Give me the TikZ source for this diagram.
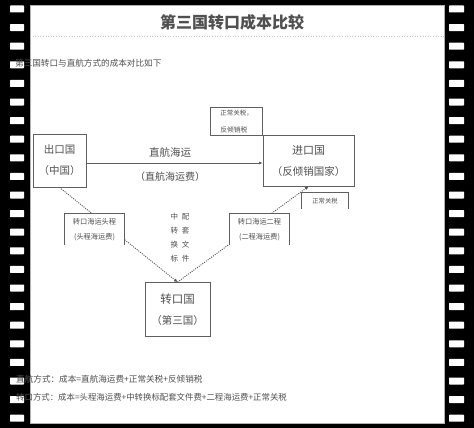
\documentclass[tikz,border=0pt]{standalone}
\usepackage{fontspec}
\setmainfont{Noto Sans CJK SC}
\usetikzlibrary{arrows.meta}
\definecolor{txt}{HTML}{505050}
\definecolor{ln}{HTML}{606060}
\tikzset{
  bigbox/.style={draw=ln, line width=0.8pt, fill=white, align=center, text=txt, inner sep=0pt},
  openbox/.style={fill=white, align=center, text=txt, inner sep=0pt},
  dotarrow/.style={draw=ln!90!black, dash pattern=on 1pt off 1.2pt, line width=0.9pt, -{Latex[length=3.5pt,width=3.5pt]}},
  hole/.style={fill=white, rounded corners=0.6pt},
}
\newcommand{\fs}[1]{\fontsize{#1}{#1}\selectfont}
\begin{document}
\begin{tikzpicture}[x=1pt,y=-1pt]
\useasboundingbox (0,0) rectangle (474,428);
% film strip
\fill[black] (0,0) rectangle (474,428);
\fill[white, draw=gray!60, line width=0.4pt] (30,5) rectangle (444,423);
\foreach \i in {0,...,22} {
  \fill[hole] (10,{5.5+18.6*\i}) rectangle (24,{12.5+18.6*\i});
  \fill[hole] (449,{5.5+18.6*\i}) rectangle (464,{12.5+18.6*\i});
}
% title
\node[font=\bfseries\fs{16}, text=txt] (title) at (232,22) {第三国转口成本比较};
\draw[gray!45, dotted, line width=0.6pt] (30,36) -- (444,36);
\node[anchor=west, font=\fs{8.6}, text=txt, inner sep=0pt] (sub) at (15,63) {第三国转口与直航方式的成本对比如下};

% main boxes
\node[bigbox, minimum width=53pt, minimum height=53pt] (out) at (59.5,160.5)
  {{\fs{10.5}出口国}\\[9pt]{\fs{10.5}（中国）}};
\node[bigbox, minimum width=91pt, minimum height=51pt] (in) at (308.5,160.5)
  {{\fs{11}进口国}\\[9pt]{\fs{10.5}（反倾销国家）}};
\node[bigbox, minimum width=52.5pt, minimum height=28pt, align=left] (tax) at (236.5,121.5)
  {{\fs{6.5}正常关税，}\\[5pt]{\fs{6.8}反倾销税}};
\node[bigbox, minimum width=65pt, minimum height=54pt] (trans) at (177.5,309.5)
  {{\fs{11.5}转口国}\\[9pt]{\fs{10.5}（第三国）}};

% direct route
\coordinate (lvl) at (0,163);
\draw[ln, line width=0.8pt, -{Latex[length=3.5pt,width=3pt]}] (out.east |- lvl) -- (in.west |- lvl);
\node[font=\fs{10.5}, text=txt] (dlab) at (170,152) {直航海运};
\node[font=\fs{10}, text=txt] (dcost) at (170,177) {（直航海运费）};

% transit routes
\draw[dotarrow] (out.south) -- (trans.north);
\draw[dotarrow] (trans.north) -- (in.south);

% open boxes
\node[openbox, minimum width=59pt, minimum height=31pt] (leg1) at (94.5,229.5)
  {{\fs{7.2}转口海运头程}\\[3pt]{\fs{7.2}(头程海运费)}};
\draw[ln, line width=0.8pt] (leg1.south west) -- (leg1.north west) -- (leg1.north east) -- (leg1.south east);
\node[openbox, minimum width=59pt, minimum height=31pt] (leg2) at (259.5,229.5)
  {{\fs{7.2}转口海运二程}\\[3pt]{\fs{7.2}(二程海运费)}};
\draw[ln, line width=0.8pt] (leg2.south west) -- (leg2.north west) -- (leg2.north east) -- (leg2.south east);
\node[openbox, minimum width=46pt, minimum height=16pt] (tax2) at (325,201)
  {\fs{6.3}正常关税};
\draw[ln, line width=0.8pt] (tax2.south west) -- (tax2.north west) -- (tax2.north east) -- (tax2.south east);

% vertical text
\node[font=\fs{7.5}, text=txt, align=center, inner sep=0pt] (mid) at (180,237.5)
  {中\hspace{4pt}配\\[6.5pt]转\hspace{4pt}套\\[6.5pt]换\hspace{4pt}文\\[6.5pt]标\hspace{4pt}件};

% formulas
\node[anchor=west, font=\fs{8.6}, text=txt, inner sep=0pt] (f1) at (16,379)
  {直航方式：成本=直航海运费+正常关税+反倾销税};
\node[anchor=west, font=\fs{8.4}, text=txt, inner sep=0pt] (f2) at (16,397)
  {转口方式：成本=头程海运费+中转换标配套文件费+二程海运费+正常关税};
\end{tikzpicture}
\end{document}
